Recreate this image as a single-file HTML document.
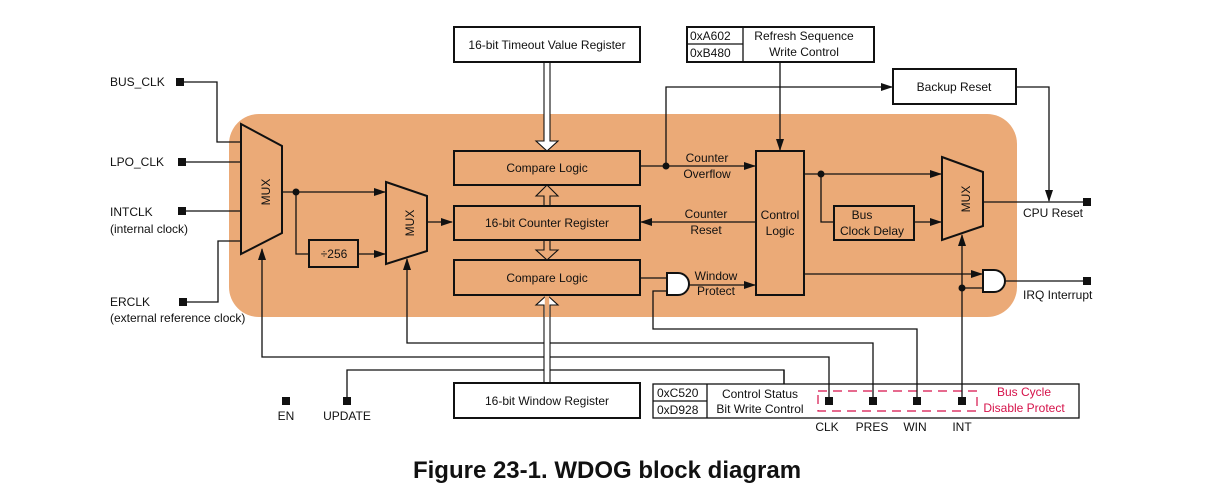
<!DOCTYPE html>
<html><head><meta charset="utf-8"><style>
html,body{margin:0;padding:0;background:#fff}
svg{display:block}
text{font-family:"Liberation Sans",Arial,sans-serif;font-size:12px;fill:#111}
</style></head><body>
<svg width="1218" height="490" viewBox="0 0 1218 490" xmlns="http://www.w3.org/2000/svg">
<defs>
<marker id="a" markerWidth="12" markerHeight="8" refX="11" refY="4" orient="auto" markerUnits="userSpaceOnUse">
<path d="M0,0 L12,4 L0,8 Z" fill="#111"/></marker>
</defs>
<rect x="229" y="114" width="788" height="203" rx="30" fill="#EBAA77"/>
<g stroke="#111" stroke-width="1.3" fill="none">
<polyline points="183,82 217,82 217,142 241,142"/>
<line x1="185" y1="162" x2="241" y2="162"/>
<line x1="185" y1="211" x2="241" y2="211"/>
<polyline points="187,302 218,302 218,241 241,241"/>
<line x1="282" y1="192" x2="385" y2="192" marker-end="url(#a)"/>
<polyline points="296,192 296,254 309,254"/>
<line x1="358" y1="254" x2="385" y2="254" marker-end="url(#a)"/>
<line x1="427" y1="222" x2="452" y2="222" marker-end="url(#a)"/>
<polyline points="829,397 829,357 262,357 262,249" marker-end="url(#a)"/>
<polyline points="873,397 873,343 407,343 407,259" marker-end="url(#a)"/>
<polyline points="347,397 347,370 784,370 784,384"/>
<line x1="640" y1="166" x2="755" y2="166" marker-end="url(#a)"/>
<polyline points="666,166 666,87 892,87" marker-end="url(#a)"/>
<line x1="780" y1="62" x2="780" y2="150" marker-end="url(#a)"/>
<line x1="756" y1="222" x2="641" y2="222" marker-end="url(#a)"/>
<line x1="640" y1="278" x2="667" y2="278"/>
<line x1="688" y1="285" x2="755" y2="285" marker-end="url(#a)"/>
<polyline points="667,291 653,291 653,329 917,329 917,397"/>
<line x1="804" y1="174" x2="941" y2="174" marker-end="url(#a)"/>
<polyline points="821,174 821,222 834,222"/>
<line x1="914" y1="222" x2="941" y2="222" marker-end="url(#a)"/>
<line x1="983" y1="202" x2="1085" y2="202"/>
<polyline points="1016,87 1049,87 1049,201" marker-end="url(#a)"/>
<line x1="962" y1="397" x2="962" y2="235" marker-end="url(#a)"/>
<line x1="962" y1="288" x2="983" y2="288"/>
<line x1="804" y1="274" x2="982" y2="274" marker-end="url(#a)"/>
<line x1="1004" y1="281" x2="1085" y2="281"/>
</g>
<g stroke="#111" stroke-width="1.1" fill="#fff">
<path d="M544,62 L544,141 L536,141 L547,151 L558,141 L550,141 L550,62 Z" fill="#fff"/>
<path d="M544,206 L544,196 L536,196 L547,185 L558,196 L550,196 L550,206 Z" fill="#EBAA77"/>
<path d="M544,240 L544,250 L536,250 L547,260 L558,250 L550,250 L550,240 Z" fill="#EBAA77"/>
<path d="M544,383 L544,305 L536,305 L547,295 L558,305 L550,305 L550,383 Z" fill="#fff"/>
</g>
<rect x="544.8" y="296" width="4.4" height="22" fill="#EBAA77"/>
<rect x="544.8" y="317" width="4.4" height="66" fill="#fff"/>
<g stroke="#111" stroke-width="2" fill="none">
<rect x="454" y="27" width="186" height="35" fill="#fff"/>
<rect x="454" y="151" width="186" height="34"/>
<rect x="454" y="206" width="186" height="34"/>
<rect x="454" y="260" width="186" height="35"/>
<rect x="454" y="383" width="186" height="35" fill="#fff"/>
<rect x="309" y="240" width="49" height="27"/>
<polygon points="241,124 282,146 282,233 241,254"/>
<polygon points="386,182 427,196 427,251 386,264"/>
<polygon points="942,157 983,172 983,226 942,240"/>
<rect x="756" y="151" width="48" height="144"/>
<rect x="834" y="206" width="80" height="34"/>
<rect x="893" y="69" width="123" height="35" fill="#fff"/>
<rect x="687" y="27" width="187" height="35" fill="#fff"/>
<path d="M667,273 L678,273 A11,11 0 0 1 678,295 L667,295 Z" fill="#fff"/>
<path d="M983,270 L994,270 A11,11 0 0 1 994,292 L983,292 Z" fill="#fff"/>
</g>
<g stroke="#111" stroke-width="1.3" fill="none">
<line x1="743" y1="27" x2="743" y2="62"/><line x1="687" y1="44" x2="743" y2="44"/>
<rect x="653" y="384" width="426" height="34" fill="#fff"/>
<line x1="707" y1="384" x2="707" y2="418"/><line x1="653" y1="401" x2="707" y2="401"/>
</g>
<line x1="784" y1="370" x2="784" y2="384" stroke="#111" stroke-width="1.3"/>
<rect x="818" y="391" width="159" height="20" fill="none" stroke="#d6124a" stroke-width="1.2" stroke-dasharray="9,6"/>
<line x1="829" y1="384" x2="829" y2="397" stroke="#111" stroke-width="1.3"/>
<line x1="873" y1="384" x2="873" y2="397" stroke="#111" stroke-width="1.3"/>
<line x1="917" y1="384" x2="917" y2="397" stroke="#111" stroke-width="1.3"/>
<line x1="962" y1="384" x2="962" y2="397" stroke="#111" stroke-width="1.3"/>
<g fill="#111">
<circle cx="296" cy="192" r="3.5"/><circle cx="666" cy="166" r="3.5"/>
<circle cx="821" cy="174" r="3.5"/><circle cx="962" cy="288" r="3.5"/>
<rect x="176" y="78" width="8" height="8"/><rect x="178" y="158" width="8" height="8"/>
<rect x="178" y="207" width="8" height="8"/><rect x="179" y="298" width="8" height="8"/>
<rect x="282" y="397" width="8" height="8"/><rect x="343" y="397" width="8" height="8"/>
<rect x="825" y="397" width="8" height="8"/><rect x="869" y="397" width="8" height="8"/>
<rect x="913" y="397" width="8" height="8"/><rect x="958" y="397" width="8" height="8"/>
<rect x="1083" y="198" width="8" height="8"/><rect x="1083" y="277" width="8" height="8"/>
</g>
<text x="110" y="86">BUS_CLK</text>
<text x="110" y="166">LPO_CLK</text>
<text x="110" y="216">INTCLK</text>
<text x="110" y="233">(internal clock)</text>
<text x="110" y="306">ERCLK</text>
<text x="110" y="322">(external reference clock)</text>
<text x="266" y="192" text-anchor="middle" transform="rotate(-90 266 192)" dy="4">MUX</text>
<text x="410" y="223" text-anchor="middle" transform="rotate(-90 410 223)" dy="4">MUX</text>
<text x="966" y="199" text-anchor="middle" transform="rotate(-90 966 199)" dy="4">MUX</text>
<text x="334" y="258" text-anchor="middle">÷256</text>
<g text-anchor="middle">
<text x="547" y="49">16-bit Timeout Value Register</text>
<text x="547" y="172">Compare Logic</text>
<text x="547" y="227">16-bit Counter Register</text>
<text x="547" y="282">Compare Logic</text>
<text x="547" y="405">16-bit Window Register</text>
<text x="707" y="162">Counter</text><text x="707" y="178">Overflow</text>
<text x="706" y="218">Counter</text><text x="706" y="234">Reset</text>
<text x="716" y="280">Window</text><text x="716" y="295">Protect</text>
<text x="780" y="219">Control</text><text x="780" y="235">Logic</text>
<text x="862" y="219">Bus</text><text x="872" y="235">Clock Delay</text>
<text x="954" y="91">Backup Reset</text>
<text x="804" y="40">Refresh Sequence</text><text x="804" y="56">Write Control</text>
<text x="760" y="398">Control Status</text><text x="760" y="413">Bit Write Control</text>
<text x="1024" y="396" style="fill:#d6124a">Bus Cycle</text>
<text x="1024" y="412" style="fill:#d6124a">Disable Protect</text>
<text x="286" y="420">EN</text><text x="347" y="420">UPDATE</text>
<text x="827" y="431">CLK</text><text x="872" y="431">PRES</text><text x="915" y="431">WIN</text><text x="962" y="431">INT</text>
</g>
<text x="690" y="40">0xA602</text><text x="690" y="57">0xB480</text>
<text x="657" y="397">0xC520</text><text x="657" y="414">0xD928</text>
<text x="1023" y="217">CPU Reset</text>
<text x="1023" y="299">IRQ Interrupt</text>
<text x="607" y="478" text-anchor="middle" style="font-size:24px;font-weight:bold">Figure 23-1. WDOG block diagram</text>
</svg>
</body></html>
